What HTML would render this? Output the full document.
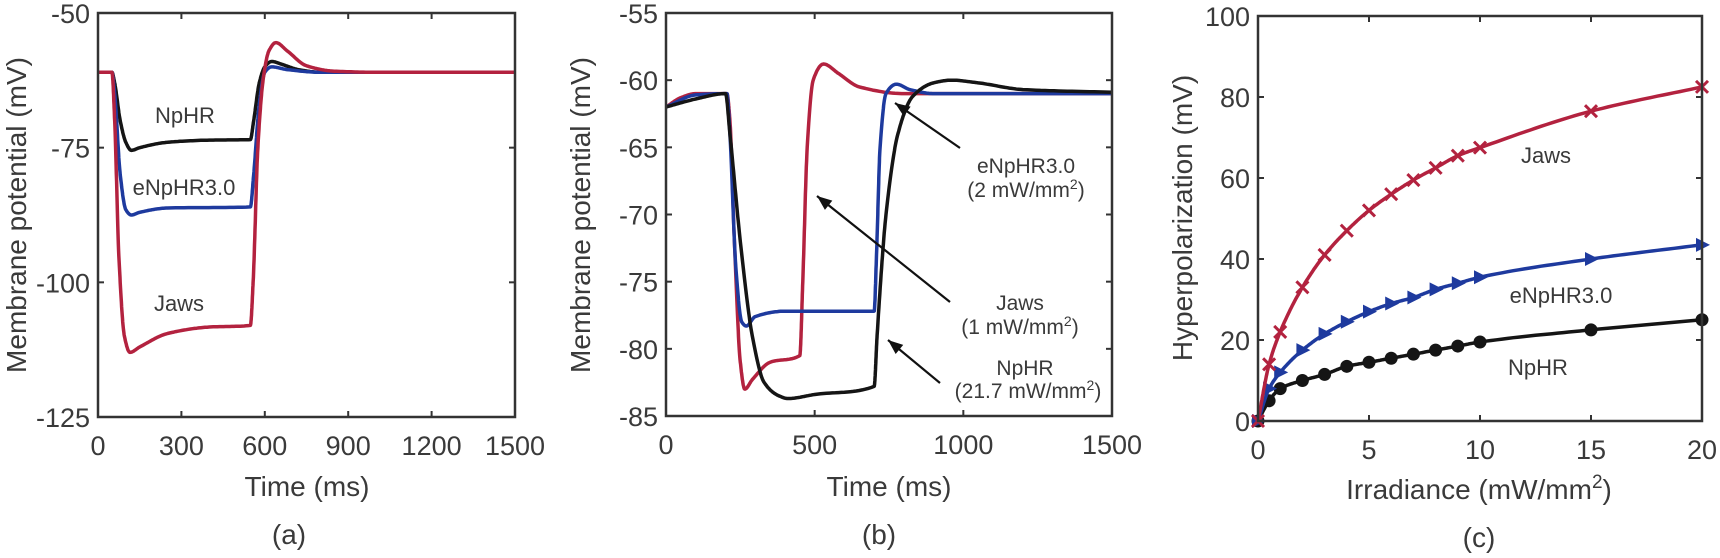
<!DOCTYPE html>
<html><head><meta charset="utf-8">
<style>
html,body{margin:0;padding:0;background:#fff;}
svg{display:block;font-family:"Liberation Sans",Arial,sans-serif;}
text{fill:#3a3a3a;}
</style></head>
<body>
<svg id="s" width="1720" height="558" viewBox="0 0 1720 558" xmlns="http://www.w3.org/2000/svg">
<g id="g"></g>
</svg>
<script>
const NS="http://www.w3.org/2000/svg";
const g=document.getElementById('g');
function el(tag,attrs,txt){const e=document.createElementNS(NS,tag);for(const k in attrs)e.setAttribute(k,attrs[k]);if(txt!==undefined)e.textContent=txt;g.appendChild(e);return e;}
const RED="#b3223f",BLUE="#1e3a9e",BLK="#151515";
function panel(o){
  const X=v=>o.x0+(v-o.xmin)/(o.xmax-o.xmin)*(o.x1-o.x0);
  const Y=v=>o.y1-(v-o.ymin)/(o.ymax-o.ymin)*(o.y1-o.y0);
  o.X=X;o.Y=Y;
  o.xt.forEach(v=>{const x=X(v);
    el('line',{x1:x,x2:x,y1:o.y1,y2:o.y1-6,stroke:'#333','stroke-width':2});
    el('line',{x1:x,x2:x,y1:o.y0,y2:o.y0+6,stroke:'#333','stroke-width':2});
    el('text',{x:x,y:o.y1+38,'font-size':27,'text-anchor':'middle'},String(v));});
  o.yt.forEach(v=>{const y=Y(v);
    el('line',{x1:o.x0,x2:o.x0+6,y1:y,y2:y,stroke:'#333','stroke-width':2});
    el('line',{x1:o.x1,x2:o.x1-6,y1:y,y2:y,stroke:'#333','stroke-width':2});
    el('text',{x:o.x0-8,y:y+10,'font-size':27,'text-anchor':'end'},String(v));});
  return o;
}
function frame(o){el('rect',{x:o.x0,y:o.y0,width:o.x1-o.x0,height:o.y1-o.y0,fill:'none',stroke:'#333','stroke-width':2.5});}
// monotone cubic interpolation
function smooth(pts){
  const n=pts.length,xs=pts.map(p=>p[0]),ys=pts.map(p=>p[1]);
  const d=[],m=[];
  for(let i=0;i<n-1;i++)d.push((ys[i+1]-ys[i])/(xs[i+1]-xs[i]));
  m[0]=d[0];m[n-1]=d[n-2];
  for(let i=1;i<n-1;i++){if(d[i-1]*d[i]<=0)m[i]=0;else{const w1=2*(xs[i+1]-xs[i])+(xs[i]-xs[i-1]),w2=(xs[i+1]-xs[i])+2*(xs[i]-xs[i-1]);m[i]=(w1+w2)/(w1/d[i-1]+w2/d[i]);}}
  const out=[];
  for(let i=0;i<n-1;i++){const h=xs[i+1]-xs[i],N=20;
    for(let k=0;k<N;k++){const t=k/N,t2=t*t,t3=t2*t;
      const y=(2*t3-3*t2+1)*ys[i]+(t3-2*t2+t)*h*m[i]+(-2*t3+3*t2)*ys[i+1]+(t3-t2)*h*m[i+1];
      out.push([xs[i]+t*h,y]);}}
  out.push(pts[n-1]);return out;}
function line(o,pts,c,sm){if(sm)pts=smooth(pts);el('polyline',{points:pts.map(p=>o.X(p[0]).toFixed(1)+','+o.Y(p[1]).toFixed(1)).join(' '),fill:'none',stroke:c,'stroke-width':3.5,'stroke-linejoin':'round'});}

// Panel a
const A=panel({x0:98,x1:515,y0:13,y1:417,xmin:0,xmax:1500,ymin:-125,ymax:-50,xt:[0,300,600,900,1200,1500],yt:[-50,-75,-100,-125]});
line(A,[[0,-61],[50,-61],[60,-63],[80,-70],[100,-74],[120,-75.5],[150,-75],[250,-74],[400,-73.6],[548,-73.5],[560,-70],[580,-63],[600,-60],[625,-59],[660,-59.5],[720,-60.5],[800,-61],[1500,-61]],BLK,1);
line(A,[[0,-61],[50,-61],[60,-65],[80,-80],[100,-86.5],[120,-87.5],[150,-87],[250,-86.2],[548,-86],[560,-80],[580,-67],[600,-61],[625,-60],[680,-60.5],[800,-61],[1500,-61]],BLUE,1);
line(A,[[0,-61],[50,-61],[60,-70],[75,-95],[95,-110],[115,-113],[150,-112],[250,-109.5],[400,-108.3],[548,-108],[558,-100],[575,-75],[595,-62],[615,-57],[640,-55.5],[680,-57],[750,-59.8],[850,-60.8],[1000,-61],[1500,-61]],RED,1);
frame(A);
el('text',{x:185,y:123,'font-size':22,'text-anchor':'middle'},'NpHR');
el('text',{x:184,y:195,'font-size':22,'text-anchor':'middle'},'eNpHR3.0');
el('text',{x:179,y:311,'font-size':22,'text-anchor':'middle'},'Jaws');
el('text',{x:307,y:496,'font-size':28,'text-anchor':'middle'},'Time (ms)');
el('text',{x:289,y:544,'font-size':28,'text-anchor':'middle'},'(a)');
el('text',{x:0,y:0,'font-size':28,'text-anchor':'middle',transform:'translate(26,215) rotate(-90)'},'Membrane potential (mV)');

// Panel b
const B=panel({x0:666,x1:1112,y0:13,y1:416,xmin:0,xmax:1500,ymin:-85,ymax:-55,xt:[0,500,1000,1500],yt:[-55,-60,-65,-70,-75,-80,-85]});
line(B,[[0,-62],[50,-61.3],[100,-61],[205,-61],[215,-63],[230,-72],[250,-81],[265,-83],[290,-82.3],[350,-81],[450,-80.5],[460,-75],[475,-65],[495,-60],[530,-58.8],[580,-59.5],[650,-60.5],[800,-61],[1500,-61]],RED,1);
line(B,[[0,-62],[100,-61.1],[205,-61],[215,-64],[235,-74],[255,-78],[270,-78.3],[300,-77.6],[400,-77.2],[700,-77.2],[708,-73],[720,-65],[740,-61],[775,-60.3],[820,-60.7],[900,-61],[1500,-61]],BLUE,1);
line(B,[[0,-62],[100,-61.4],[200,-61],[215,-64],[250,-72],[290,-79],[330,-82.5],[380,-83.5],[410,-83.7],[500,-83.4],[700,-82.8],[710,-79],[740,-70],[780,-64],[830,-61.2],[900,-60.2],[960,-60],[1050,-60.2],[1200,-60.7],[1500,-60.9]],BLK,1);
frame(B);
function arrow(x1,y1,x2,y2){el('line',{x1:x1,y1:y1,x2:x2,y2:y2,stroke:'#111','stroke-width':2.2});
  const a=Math.atan2(y2-y1,x2-x1),L=16,w=0.38;
  el('polygon',{points:`${x2},${y2} ${x2-L*Math.cos(a-w)},${y2-L*Math.sin(a-w)} ${x2-L*Math.cos(a+w)},${y2-L*Math.sin(a+w)}`,fill:'#111'});}
arrow(960,148,895,103);
arrow(950,302,817,196);
arrow(940,383,888,340);
function lbl(x,y,t){el('text',{x:x,y:y,'font-size':21,'text-anchor':'middle'},t);}
lbl(1026,173,'eNpHR3.0');
const t1=el('text',{x:1026,y:197,'font-size':21,'text-anchor':'middle'});t1.innerHTML='(2 mW/mm<tspan dy="-8" font-size="14">2</tspan><tspan dy="8">)</tspan>';
lbl(1020,310,'Jaws');
const t2=el('text',{x:1020,y:334,'font-size':21,'text-anchor':'middle'});t2.innerHTML='(1 mW/mm<tspan dy="-8" font-size="14">2</tspan><tspan dy="8">)</tspan>';
lbl(1025,375,'NpHR');
const t3=el('text',{x:1028,y:398,'font-size':21,'text-anchor':'middle'});t3.innerHTML='(21.7 mW/mm<tspan dy="-8" font-size="14">2</tspan><tspan dy="8">)</tspan>';
el('text',{x:889,y:496,'font-size':28,'text-anchor':'middle'},'Time (ms)');
el('text',{x:879,y:544,'font-size':28,'text-anchor':'middle'},'(b)');
el('text',{x:0,y:0,'font-size':28,'text-anchor':'middle',transform:'translate(590,215) rotate(-90)'},'Membrane potential (mV)');

// Panel c
const C=panel({x0:1258,x1:1702,y0:16,y1:421,xmin:0,xmax:20,ymin:0,ymax:100,xt:[0,5,10,15,20],yt:[0,20,40,60,80,100]});
const xs=[0,0.5,1,2,3,4,5,6,7,8,9,10,15,20];
const jaws=[0,14,22,33,41,47,52,56,59.5,62.5,65.5,67.5,76.5,82.5];
const enp=[0,8,12,17.5,21.5,24.5,27,29,30.5,32.5,34,35.5,40,43.5];
const np=[0,5,8,10,11.5,13.5,14.5,15.5,16.5,17.5,18.5,19.5,22.5,25];
function series(ys,c,m){line(C,xs.map((x,i)=>[x,ys[i]]),c,1);
  xs.forEach((x,i)=>{const px=C.X(x),py=C.Y(ys[i]);
    if(m==='x'){el('path',{d:`M${px-6},${py-6}L${px+6},${py+6}M${px-6},${py+6}L${px+6},${py-6}`,stroke:c,'stroke-width':3});}
    else if(m==='t'){el('polygon',{points:`${px+8},${py} ${px-6},${py-7} ${px-6},${py+7}`,fill:c});}
    else el('circle',{cx:px,cy:py,r:6.5,fill:c});});}
series(np,BLK,'o');series(enp,BLUE,'t');series(jaws,RED,'x');
frame(C);
el('text',{x:1546,y:163,'font-size':22,'text-anchor':'middle'},'Jaws');
el('text',{x:1561,y:303,'font-size':22,'text-anchor':'middle'},'eNpHR3.0');
el('text',{x:1538,y:375,'font-size':22,'text-anchor':'middle'},'NpHR');
const t4=el('text',{x:1479,y:499,'font-size':28,'text-anchor':'middle'});t4.innerHTML='Irradiance (mW/mm<tspan dy="-11" font-size="19">2</tspan><tspan dy="11">)</tspan>';
el('text',{x:1479,y:547,'font-size':28,'text-anchor':'middle'},'(c)');
el('text',{x:0,y:0,'font-size':28,'text-anchor':'middle',transform:'translate(1192,218) rotate(-90)'},'Hyperpolarization (mV)');
</script>
</body></html>
